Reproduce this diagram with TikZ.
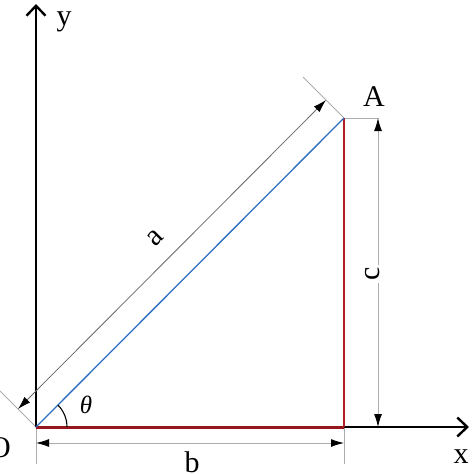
\documentclass[tikz,border=0pt]{standalone}
\usepackage{fontspec}
\setmainfont{Liberation Serif}
\usetikzlibrary{arrows.meta}
\definecolor{dimgray}{gray}{0.4}
\definecolor{extgray}{gray}{0.68}
\definecolor{myred}{RGB}{150,22,28}
\definecolor{myredv}{RGB}{175,30,35}
\definecolor{myblue}{RGB}{45,110,190}
\tikzset{
  axisline/.style={line width=2.6pt, -{Straight Barb[length=10pt,width=19pt,line width=2.4pt]}},
  extline/.style={extgray, line width=0.9pt},
  dimline/.style={dimgray, line width=0.8pt, {Latex[length=13pt,width=8pt,black]}-{Latex[length=13pt,width=8pt,black]}},
  dimlineg/.style={extgray, line width=1pt, {Latex[length=13pt,width=8pt,black]}-{Latex[length=13pt,width=8pt,black]}},
  lab/.style={font=\fontsize{30}{30}\selectfont, inner sep=0pt},
}
\begin{document}
\begin{tikzpicture}[x=1pt,y=-1pt]
\useasboundingbox (0,0) rectangle (474,474);
\clip (0,0) rectangle (474,474);
% points
\coordinate (O) at (36,427);
\coordinate (A) at (344,118);
\coordinate (B) at (344,427);
\coordinate (X) at (469,427);
\coordinate (Y) at (36,4);
\coordinate (Oe) at (-5,386);
\coordinate (Ae) at (303,77);
\coordinate (Od) at (18,409);
\coordinate (Ad) at (326,100);
\coordinate (Ce) at (379,118);
\coordinate (Ct) at (378,118);
\coordinate (Cb) at (378,427);
\coordinate (Ob) at (36,464);
\coordinate (Bb) at (344,464);
\coordinate (bL) at (36,443);
\coordinate (bR) at (344,443);
\coordinate (Th0) at (67,427);
% extension lines
\draw[extline] (O) -- (Oe);
\draw[extline] (A) -- (Ae);
\draw[extline] (A) -- (Ce);
\draw[extline] (O) -- (Ob);
\draw[extline] (B) -- (Bb);
% axes
\draw[axisline] (O) -- (X);
\draw[axisline] (O) -- (Y);
% triangle
\draw[myred, line width=3pt] (O) -- (B);
\draw[myredv, line width=2pt] (B) -- (A);
\draw[myblue, line width=1.3pt] (O) -- (A);
% angle
\draw[line width=1.1pt] (Th0) arc[start angle=0, end angle=45, radius=31pt];
% dimensions
\draw[dimline] (Od) -- (Ad);
\draw[dimlineg] (Ct) -- (Cb);
\draw[dimlineg] (bL) -- (bR);
% labels
\node[lab, anchor=base] (ly) at (64,25) {y};
\node[lab, anchor=base] (lx) at (461,463) {x};
\node[lab, anchor=base] (lA) at (374,106) {A};
\node[lab, anchor=base] (lO) at (0,457) {O};
\node[lab, anchor=base] (lb) at (192,472) {b};
\node[lab, fill=white, inner sep=2pt, rotate=90] (lc) at (373,274) {c};
\node[lab, rotate=45] (la) at (155,238) {a};
\node[font=\fontsize{25}{25}\selectfont\itshape, inner sep=0pt] (lt) at (86,405) {θ};
\end{tikzpicture}
\end{document}
